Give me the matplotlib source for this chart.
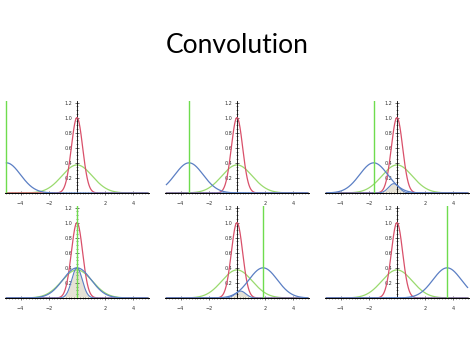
import numpy as np
import matplotlib.pyplot as plt
from matplotlib.ticker import MultipleLocator

# kernel f (red), shifted g (blue), convolution (green)
shifts = [-5.0, -3.4, -1.65, 0.0, 1.85, 3.55]
f_sigma = 0.4
g_peak = 0.4
g_sigma = 1.0
xticks = [-4, -2, 2, 4]
yticks = [0.2, 0.4, 0.6, 0.8, 1.0, 1.2]

red = '#d9506a'
blue = '#5b7fc4'
green_curve = '#9ada6e'
green_line = '#6fdc4e'
fill_col = '#e6e2d6'

fig = plt.figure(figsize=(4.74, 3.55), dpi=100)
fig.text(0.5, 0.873, 'Convolution', ha='center', va='center',
         fontsize=19, family='Lato')

x = np.linspace(-5, 5, 801)
f = np.exp(-x**2 / (2 * f_sigma**2))
s2 = g_sigma**2 + f_sigma**2
# f * g, both gaussians -> gaussian of summed variance
conv = g_peak * np.sqrt(2 * np.pi) * g_sigma * f_sigma / np.sqrt(s2) * np.exp(-x**2 / (2 * s2))

lefts = [6, 166, 326]
zeros = [193, 298]
W, H = 474.0, 355.0
for i, t in enumerate(shifts):
    row, col = divmod(i, 3)
    x0 = (lefts[col] - 1) / W
    w = 144 / W
    ax = fig.add_axes([x0, (H - zeros[row]) / H, w, 92 / H])
    g = g_peak * np.exp(-(x - t)**2 / (2 * g_sigma**2))
    prod = f * g
    ax.fill_between(x, 0, prod, color=fill_col, lw=0, zorder=1)
    ax.plot(x, conv, color=green_curve, lw=0.9, zorder=2)
    ax.plot(x, f, color=red, lw=0.9, zorder=3)
    ax.plot(x, g, color=blue, lw=0.9, zorder=3)
    ax.plot(x, prod, color=blue, lw=0.8, zorder=3)
    ax.axvline(t, ymin=0, ymax=1, color=green_line, lw=1.0, zorder=4)

    ax.set_xlim(-5.1, 5.1)
    ax.set_ylim(0, 1.22)
    ax.spines['top'].set_visible(False)
    ax.spines['right'].set_visible(False)
    ax.spines['left'].set_position(('data', 0))
    ax.spines['bottom'].set_position(('data', 0))
    ax.spines['left'].set_linewidth(0.6)
    ax.spines['bottom'].set_linewidth(0.7)
    ax.set_xticks(xticks)
    ax.set_yticks(yticks)
    ax.xaxis.set_minor_locator(MultipleLocator(0.2))
    ax.yaxis.set_minor_locator(MultipleLocator(0.05))
    ax.tick_params(which='major', direction='inout', length=3, width=0.5,
                   labelsize=3.5, colors='#333333')
    ax.tick_params(axis='x', which='major', pad=4)
    ax.tick_params(axis='y', which='major', pad=2)
    ax.tick_params(which='minor', direction='inout', length=1.5, width=0.4,
                   colors='#333333')
    ax.patch.set_visible(False)
    for lab in ax.get_yticklabels():
        lab.set_clip_on(False)

plt.savefig('out.png', dpi=100)
